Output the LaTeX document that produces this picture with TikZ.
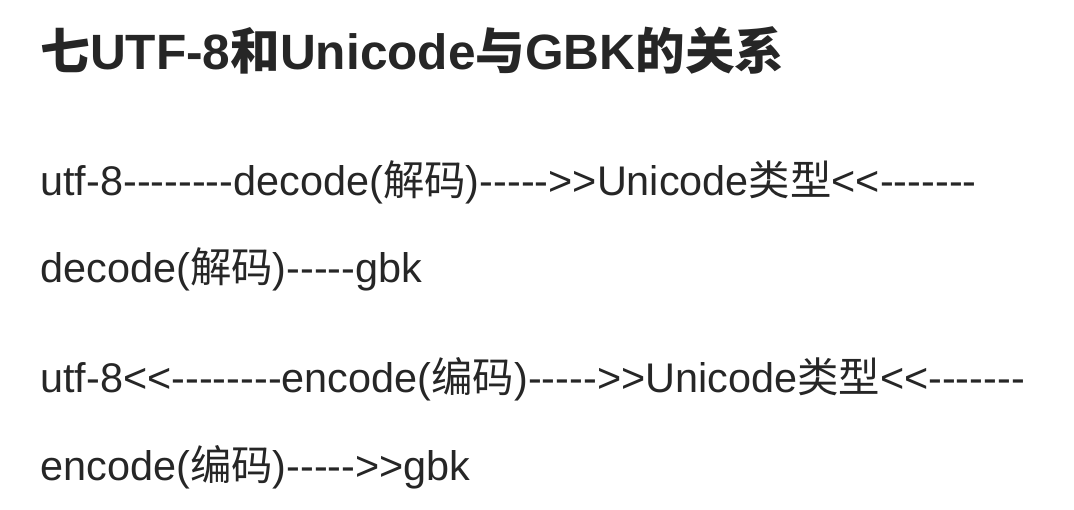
\documentclass[tikz,border=0pt]{standalone}
\usepackage{fontspec}
\newfontfamily\body{Liberation Sans}
\newfontfamily\cjk{Noto Sans CJK SC}
\tikzset{txt/.style={anchor=base west,inner sep=0pt,font=\body\fontsize{20.7}{22}\selectfont,text=black!85},
ttl/.style={anchor=base west,inner sep=0pt,font=\body\bfseries\fontsize{24.8}{27}\selectfont,text=black!85}}
\begin{document}
\begin{tikzpicture}
\useasboundingbox (0,0) rectangle (537pt,-254.5pt);
\node[ttl] (t) at (20pt,-34.5pt) {{\cjk\bfseries 七}UTF-8{\cjk\bfseries 和}Unicode{\cjk\bfseries 与}GBK{\cjk\bfseries 的关系}};
\node[txt] (l1) at (20pt,-97.5pt) {utf-8--------decode({\cjk 解码})----->>Unicode{\cjk 类型}<<-------};
\node[txt] (l2) at (20pt,-141pt) {decode({\cjk 解码})-----gbk};
\node[txt] (l3) at (20pt,-196pt) {utf-8<<--------encode({\cjk 编码})----->>Unicode{\cjk 类型}<<-------};
\node[txt] (l4) at (20pt,-240pt) {encode({\cjk 编码})----->>gbk};
\end{tikzpicture}
\end{document}
